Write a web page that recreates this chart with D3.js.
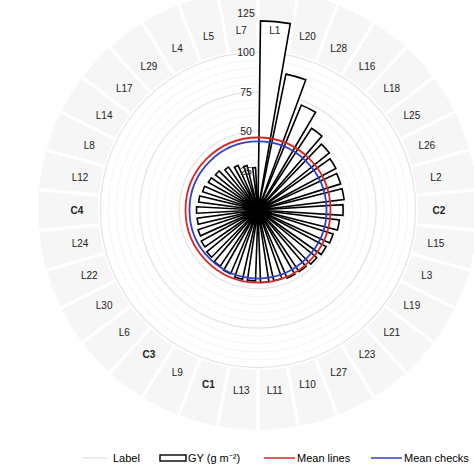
<!DOCTYPE html>
<html><head><meta charset="utf-8">
<script src="https://cdn.jsdelivr.net/npm/d3@7"></script>
<style>body{margin:0;background:#fff}text{font-family:"Liberation Sans",Arial,sans-serif}</style>
</head><body><svg id="c" width="474" height="474"></svg>
<script>
const categories=["L1","L20","L28","L16","L18","L25","L26","L2","C2","L15","L3","L19","L21","L23","L27","L10","L11","L13","C1","L9","C3","L6","L30","L22","L24","C4","L12","L8","L14","L17","L29","L4","L5","L7"];
const gy=[120,88,72,62,58,56,55,55,54,52,50,49,48,47,47,46,46,45,45,44,43,42,41,40,39,39,38,37,36,35,33,31,29,27];
const meanLines=[46];
const meanChecks=[43.5];
const ticks=[25,50,75,100,125];

const svg=d3.select("#c");
const cx=258,cy=210;
const g=svg.append("g").attr("transform",`translate(${cx},${cy})`);
const r=d3.scaleLinear().domain([0,125]).range([0,197]);
const x=d3.scaleBand().domain(categories).range([0,2*Math.PI]);

const ringArc=d3.arc().innerRadius(160).outerRadius(220).padAngle(0.012);
g.selectAll(".seg").data(categories).join("path")
 .attr("d",c=>ringArc({startAngle:x(c),endAngle:x(c)+x.bandwidth()}))
 .attr("fill","#f6f6f6");
d3.range(5,150,5).filter(v=>r(v)<160).forEach(v=>{
 g.append("circle").attr("r",r(v)).attr("fill","none")
  .attr("stroke",ticks.includes(v)?"#e4e4e4":"#f6f6f6").attr("stroke-width",1.2);
});
const barArc=d3.arc().innerRadius(0).outerRadius(d=>r(d.v)).padAngle(0.025).padRadius(200);
g.selectAll(".bar").data(categories.map((c,i)=>({c,v:gy[i]}))).join("path")
 .attr("d",d=>barArc({v:d.v,startAngle:x(d.c),endAngle:x(d.c)+x.bandwidth()}))
 .attr("fill","#fff").attr("stroke","#000").attr("stroke-width",1.6).attr("stroke-linejoin","miter");
g.append("circle").attr("r",7).attr("fill","#000");
g.append("circle").attr("r",r(meanLines[0])).attr("fill","none").attr("stroke","#d62728").attr("stroke-width",1.8);
g.append("circle").attr("r",r(meanChecks[0])).attr("fill","none").attr("stroke","#3040c8").attr("stroke-width",1.8);
g.selectAll(".tk").data(ticks).join("text").attr("x",-12).attr("y",v=>-r(v)+4)
 .attr("text-anchor","middle").attr("font-size",10.5).attr("fill","#222").text(d=>d);
g.selectAll(".lb").data(categories).join("text")
 .attr("transform",c=>{const a=x(c)+x.bandwidth()/2;const rr=181;return `translate(${rr*Math.sin(a)},${-rr*Math.cos(a)+4})`;})
 .attr("text-anchor","middle").attr("font-size",10).attr("fill","#222")
 .attr("font-weight",c=>c.startsWith("C")?"bold":"normal").text(c=>c);
const L=svg.append("g").attr("transform","translate(0,458)");
L.append("line").attr("x1",82).attr("x2",108).attr("y1",0).attr("y2",0).attr("stroke","#eee").attr("stroke-width",2);
L.append("text").attr("x",113).attr("y",4).attr("font-size",11).text("Label");
L.append("rect").attr("x",160).attr("y",-3).attr("width",26).attr("height",6).attr("fill","#fff").attr("stroke","#000").attr("stroke-width",1.4);
L.append("text").attr("x",188).attr("y",4).attr("font-size",11).text("GY (g m⁻²)");
L.append("line").attr("x1",264).attr("x2",295).attr("y1",0).attr("y2",0).attr("stroke","#d62728").attr("stroke-width",1.5);
L.append("text").attr("x",297).attr("y",4).attr("font-size",11).text("Mean lines");
L.append("line").attr("x1",371).attr("x2",402).attr("y1",0).attr("y2",0).attr("stroke","#3040c8").attr("stroke-width",1.5);
L.append("text").attr("x",404).attr("y",4).attr("font-size",11).text("Mean checks");
</script></body></html>
